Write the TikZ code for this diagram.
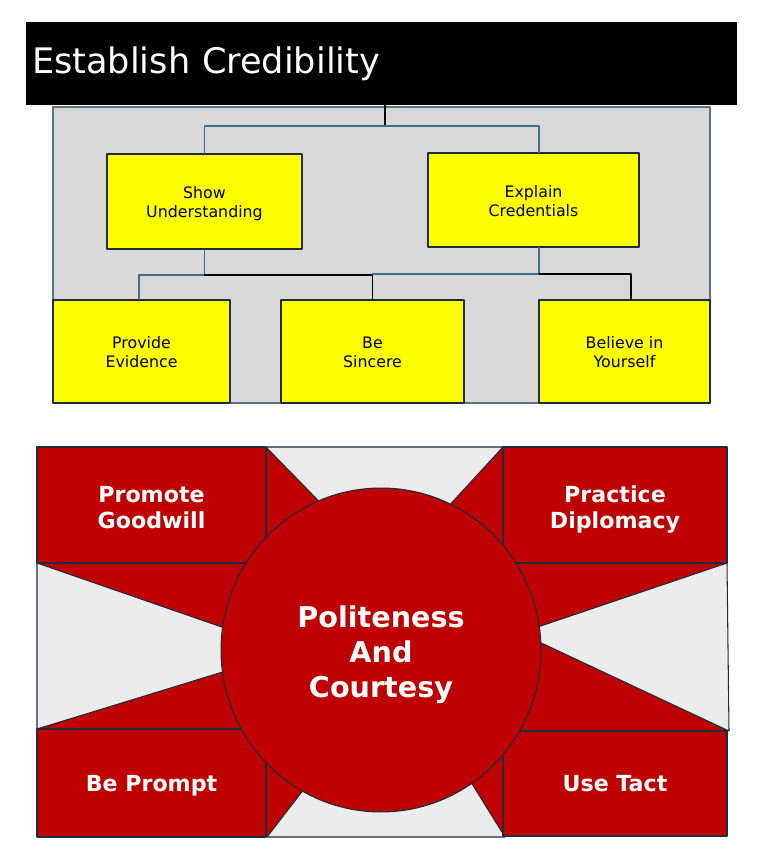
\documentclass[tikz,border=0pt]{standalone}
\usepackage{fontspec}
\setmainfont{DejaVu Sans}
\usetikzlibrary{shapes.geometric}
\definecolor{hdred}{RGB}{190,0,0}
\definecolor{hdyellow}{RGB}{255,255,0}
\definecolor{hdpanel}{RGB}{217,217,217}
\definecolor{hdspeck}{RGB}{236,236,236}
\definecolor{hdblue}{RGB}{62,110,140}
\definecolor{hdedge}{RGB}{30,45,60}

\begin{document}
\begin{tikzpicture}[x=0.02cm, y=-0.02cm, line join=round, line cap=round, line width=0.6pt,
	box/.style={draw=hdedge, fill=hdyellow, align=center, inner sep=0pt, text height=20.5pt, text depth=2pt,
		font=\fontsize{9}{10.8}\selectfont},
	redbox/.style={draw=hdedge, fill=hdred, text=white, align=center, inner sep=0pt, text depth=0pt,
		font=\fontsize{12.6}{14.8}\selectfont\bfseries},
	link/.style={draw=black},
	bluelink/.style={draw=hdblue},
	wedge/.style={fill=hdspeck, draw=hdedge}]
	\useasboundingbox (0,0) rectangle (768,866);

	% Establish Credibility
	\draw[fill=hdpanel, draw=hdblue!60!gray] (53,107) rectangle (710,403);
	\node[fill=black, minimum width=14.22cm, minimum height=1.66cm, text width=13.98cm, inner xsep=0.12cm, inner ysep=0pt,
		text=white, align=left, font=\fontsize{20}{24}\selectfont] (title) at (381.5,63.5) {Establish Credibility};

	\node[box, minimum width=3.9cm, minimum height=1.9cm] (show) at (204.5,201.5) {Show\\Understanding};
	\node[box, minimum width=4.22cm, minimum height=1.88cm] (explain) at (533.5,200) {Explain\\Credentials};
	\node[box, minimum width=3.54cm, minimum height=2.06cm] (provide) at (141.5,351.5) {Provide\\Evidence};
	\node[box, minimum width=3.66cm, minimum height=2.06cm] (sincere) at (372.5,351.5) {Be\\Sincere};
	\node[box, minimum width=3.42cm, minimum height=2.06cm] (believe) at (624.5,351.5) {Believe in\\Yourself};

	\coordinate (tbus) at (385,126);
	\coordinate (lbus) at (0,275);
	\coordinate (rbus) at (0,274);
	\draw[link] (tbus |- title.south) -- (tbus);
	\draw[bluelink] (show.north) |- (tbus) -| ([xshift=0.11cm]explain.north);
	\draw[bluelink] (show.south) |- ([xshift=-0.05cm]provide.north |- lbus) -- ([xshift=-0.05cm]provide.north);
	\draw[link] (show.south |- lbus) -- (sincere.north |- lbus) -- (sincere.north);
	\draw[bluelink] ([xshift=0.11cm]explain.south) |- (sincere.north |- rbus);
	\draw[link] ([xshift=0.11cm]explain.south |- rbus) -| ([xshift=0.13cm]believe.north);

	% Politeness and Courtesy
	\fill[hdred] (37,447) rectangle (727,837);
	\draw[wedge] (266,447) -- (503,447) -- (388,572) -- cycle;
	\draw[wedge] (37,563) -- (291,651) -- (37,729) -- cycle;
	\draw[wedge] (727,563) -- (520,633) -- (729,731) -- cycle;
	\draw[wedge] (267,837) -- (399,666) -- (505,837) -- cycle;

	\node[redbox, minimum width=4.58cm, minimum height=2.32cm, text height=26.6pt] (goodwill) at (151.5,505) {Promote\\Goodwill};
	\node[redbox, minimum width=4.48cm, minimum height=2.32cm, text height=26.6pt] (diplomacy) at (615,505) {Practice\\Diplomacy};
	\node[redbox, minimum width=4.58cm, minimum height=2.16cm] (prompt) at (151.5,783) {Be Prompt};
	\node[redbox, minimum width=4.48cm, minimum height=2.1cm] (tact) at (615,783.5) {Use Tact};

	\node[ellipse, draw=hdedge, fill=hdred, minimum width=6.4cm, minimum height=6.48cm, inner sep=0pt, text=white,
		text height=58pt, text depth=4pt, align=center, font=\fontsize{16.3}{19.9}\selectfont\bfseries]
		(courtesy) at (381,650) {Politeness\\And\\Courtesy};
\end{tikzpicture}
\end{document}
